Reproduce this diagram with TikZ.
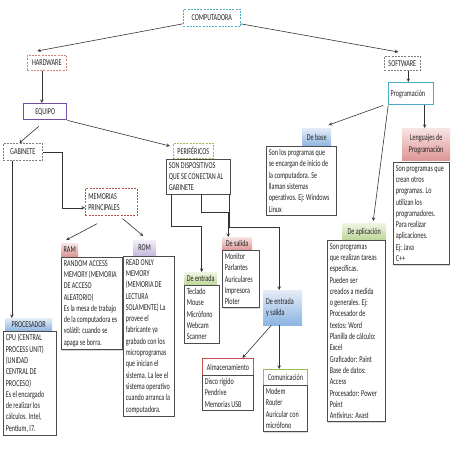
\documentclass[tikz,border=0pt]{standalone}
\usepackage{fontspec}
\setmainfont{Carlito}[FakeStretch=0.68]
\usepackage{tikz}
\usetikzlibrary{shadows,calc}
\definecolor{aqualine}{RGB}{75,172,198}
\definecolor{redline}{RGB}{192,80,77}
\definecolor{greenline}{RGB}{155,187,89}
\definecolor{purpleline}{RGB}{112,80,160}
\definecolor{greyline}{RGB}{125,125,125}
\definecolor{bluetop}{RGB}{228,236,247}
\definecolor{bluebot}{RGB}{141,180,226}
\definecolor{pinktop}{RGB}{248,228,228}
\definecolor{pinkbot}{RGB}{222,150,150}
\definecolor{greentop}{RGB}{240,245,228}
\definecolor{greenbot}{RGB}{190,213,150}
\definecolor{lilactop}{RGB}{242,238,247}
\definecolor{lilacbot}{RGB}{198,188,220}
\definecolor{inkgrey}{RGB}{35,35,35}
\hyphenpenalty=10000

\tikzset{
  dashbox/.style={draw=#1, dash pattern=on 2pt off 1.2pt, line width=0.6pt, fill=white, anchor=north west, inner sep=1pt, align=center},
  framebox/.style={draw=#1, line width=1.4pt, fill=white, anchor=north west, inner sep=2pt},
  shadebox/.style 2 args={top color=#1, bottom color=#2, anchor=north west, inner sep=1pt, align=center},
  linebox/.style={draw=#1, line width=0.9pt, fill=white, anchor=north west, inner sep=1pt, align=center},
  txtbox/.style={draw=black!70, line width=0.6pt, fill=white, anchor=north west, align=flush left, inner xsep=2.5pt, inner ysep=3pt, text width=#1, drop shadow={shadow xshift=1pt, shadow yshift=-1pt, opacity=0.3}},
  link/.style={->, draw=black!80, line width=0.6pt}
}

\begin{document}
\begin{tikzpicture}[x=1pt, y=-1pt, >=stealth, font=\fontsize{9}{11.3}\selectfont, text=inkgrey]
        \useasboundingbox (0,0) rectangle (453,453);

        % Top: computadora, hardware, software
        \node[dashbox=aqualine, minimum width=57pt, minimum height=17pt] (comp) at (183,9) {COMPUTADORA};
        \node[dashbox=redline!70, minimum width=39pt, minimum height=15pt] (hw) at (27,55) {HARDWARE};
        \node[dashbox=greyline, minimum width=36pt, minimum height=14pt] (sw) at (384,56) {SOFTWARE};
        \draw[link] ([yshift=-6]comp.west) -- ([xshift=-9.5,yshift=4]hw.north);
        \draw[link] ([yshift=-6]comp.east) -- ([xshift=-4,yshift=4]sw.north);

        % Hardware side: equipo, gabinete, perifericos
        \node[framebox=purpleline, minimum width=43pt, minimum height=16pt] (eq) at (23,103) {EQUIPO};
        \draw[link] ([xshift=-5]hw.south) -- ([xshift=-5]hw.south |- eq.north);
        \node[dashbox=greyline, minimum width=39pt, minimum height=17pt] (gab) at (3,143) {GABINETE};
        \node[dashbox=greenline, minimum width=40pt, minimum height=15pt] (per) at (173,143) {PERIFÉRICOS};
        \draw[link] ([xshift=-6.5,yshift=-6]eq.south) -- ([xshift=-3.5]gab.north);
        \draw[link] (eq.south east) -- ([xshift=-3,yshift=-3]per.north west);
        \node[txtbox=59pt] (son) at (166,159) {SON DISPOSITIVOS\\QUE SE CONECTAN AL\\GABINETE};

        % Memorias and procesador
        \node[dashbox=redline, minimum height=27pt, text width=46pt, align=flush left, inner xsep=3pt] (mem) at (85,188) {MEMORIAS\\PRINCIPALES};
        \draw[link] (gab.east) -- ++(20,0) |- ([yshift=-6]mem.west);
        \node[shadebox={pinktop}{pinkbot}, minimum width=17pt, minimum height=13pt] (ramhd) at (61,243) {RAM};
        \node[txtbox=56pt] (ram) at (61,257) {RANDOM ACCESS\\MEMORY (MEMORIA\\DE ACCESO\\ALEATORIO)\\Es la mesa de trabajo\\de la computadora es\\volátil: cuando se\\apaga se borra.};
        \node[shadebox={lilactop}{lilacbot}, minimum width=23pt, minimum height=15pt] (romhd) at (133,240) {ROM};
        \node[txtbox=46pt] (rom) at (123,256) {READ ONLY\\MEMORY\\(MEMORIA DE\\LECTURA\\SOLAMENTE) La\\provee el\\fabricante ya\\grabado con los\\microprogramas\\que inician el\\sistema. La lee el\\sistema operativo\\cuando arranca la\\computadora.};
        \draw[link] ([xshift=-14,yshift=-8]mem.south) -- ([xshift=-3.5,yshift=3]ramhd.north);
        \draw[link] ([xshift=-15,yshift=-3]mem.south east) -- ([xshift=-1.5,yshift=4]romhd.north);
        \node[shadebox={bluetop}{bluebot}, minimum width=47pt, minimum height=13pt] (prochd) at (5,318) {PROCESADOR};
        \node[txtbox=48pt] (proc) at (3,331) {CPU (CENTRAL\\PROCESS UNIT)\\(UNIDAD\\CENTRAL DE\\PROCESO)\\Es el encargado\\de realizar los\\cálculos. Intel,\\Pentium, I7.};
        \draw[link] ([xshift=-11]gab.south) -- ([xshift=-11]gab.south |- prochd.north);

        % Perifericos: entrada, salida, entrada y salida
        \node[shadebox={greentop}{greenbot}, minimum width=33pt, minimum height=13pt] (enthd) at (184,272) {De entrada};
        \node[txtbox=30pt] (ent) at (184,285) {Teclado\\Mouse\\Micrófono\\Webcam\\Scanner};
        \node[shadebox={pinktop}{pinkbot}, minimum width=30pt, minimum height=13pt] (salhd) at (222,237) {De salida};
        \node[txtbox=32pt] (sal) at (222,250) {Monitor\\Parlantes\\Auriculares\\Impresora\\Ploter};
        \node[shadebox={bluetop}{bluebot}, minimum height=35pt, text width=33pt, align=flush left, inner xsep=3pt] (eyshd) at (263,290) {De entrada\\y salida};
        \draw[link] ([xshift=5]son.south west) -- ++(0,32) -| ([xshift=1]enthd.north);
        \draw[link] ([xshift=35]son.south west) -- ++(0,18) -| ([xshift=-9]salhd.north);
        \draw[link] ([xshift=-1.5]son.south east) -- ++(0,33) -| ([xshift=-3.5]eyshd.north);
        \node[linebox=redline, minimum width=51pt, minimum height=17pt] (almhd) at (202,358) {Almacenamiento};
        \node[txtbox=46pt] (alm) at (202,375) {Disco rígido\\Pendrive\\Memorias USB};
        \node[linebox=greenline, minimum width=44pt, minimum height=16pt] (comhd) at (263,369) {Comunicación};
        \node[txtbox=39pt] (com) at (263,385) {Modem\\Router\\Auricular con\\micrófono};
        \draw[link] ([xshift=-11.5]eyshd.south) -- ([xshift=14.5]almhd.north);
        \draw[link] ([xshift=-3.5]eyshd.south) -- ([xshift=-3.5]eyshd.south |- comhd.north);

        % Software side: programacion and its kinds
        \node[framebox=aqualine, minimum height=22pt, text width=41pt, align=flush left] (prog) at (388,82) {Programación};
        \draw[link] ([xshift=6]sw.south) -- ([xshift=6]sw.south |- prog.north);
        \node[shadebox={bluetop}{bluebot}, minimum width=29pt, minimum height=18pt] (basehd) at (302,128) {De base};
        \node[txtbox=65pt] (base) at (266,146) {Son los programas que\\se encargan de inicio de\\la computadora. Se\\llaman sistemas\\operativos. Ej: Windows\\Linux};
        \node[shadebox={pinktop}{pinkbot}, minimum width=48pt, minimum height=32pt] (lenghd) at (402,128) {Lenguajes de\\Programación};
        \node[txtbox=51pt] (leng) at (393,162) {Son programas que\\crean otros\\programas. Lo\\utilizan los\\programadores.\\Para realizar\\aplicaciones.\\Ej: Java\\C++};
        \node[shadebox={greentop}{greenbot}, minimum width=44pt, minimum height=17pt] (aplhd) at (342,223) {De aplicación};
        \node[txtbox=53pt] (apl) at (327,240) {Son programas\\que realizan tareas\\específicas.\\Pueden ser\\creados a medida\\o generales. Ej:\\Procesador de\\textos: Word\\Planilla de cálculo:\\Excel\\Graficador: Paint\\Base de datos:\\Access\\Procesador: Power\\Point\\Antivirus: Avast};
        \draw[link] ([xshift=-28]prog.south) -- ([xshift=12,yshift=3]basehd.north);
        \draw[link] ([xshift=13.5]prog.south) -- ([xshift=13.5]prog.south |- lenghd.north);
        \draw[link] ([xshift=-23]prog.south) -- ([xshift=9,yshift=2]aplhd.north);
    \end{tikzpicture}
\end{document}
